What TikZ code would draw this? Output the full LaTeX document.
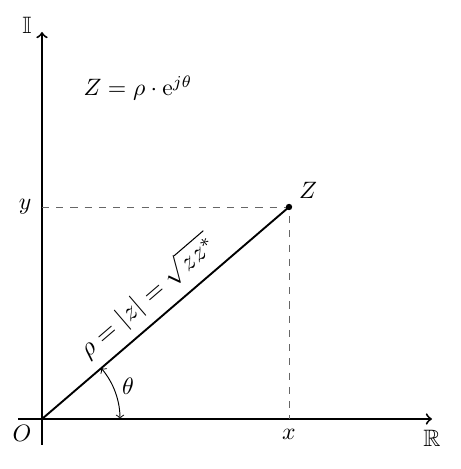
\documentclass[tikz,border=0pt]{standalone}
\usepackage{amsmath,amssymb}
\begin{document}
\begin{tikzpicture}[x=0.4217pt,y=0.4217pt,
  axis/.style={thick,->},
  guide/.style={dashed,gray!80!black},
  vec/.style={thick},
  lbl/.style={inner sep=1pt}]
\useasboundingbox (-42,-50) rectangle (418,419);
\coordinate (O) at (0,0);
\coordinate (Xs) at (-24,0);
\coordinate (Xe) at (390,0);
\coordinate (Ys) at (0,-26);
\coordinate (Ye) at (0,387);
\coordinate (Z) at (247,212);
\coordinate (Zx) at (247,0);
\coordinate (Zy) at (0,212);
\draw[axis] (Xs) -- (Xe);
\draw[axis] (Ys) -- (Ye);
\draw[guide] (Zy) -- (Z) -- (Zx);
\draw[vec] (O) -- node[pos=0.49,sloped,above=2.5pt,lbl,scale=1.1] {$\rho=|z|=\sqrt{zz^*}$} (Z);
\fill (Z) circle (3.2);
\draw[<->] (78,0) arc[start angle=0,end angle=40.64,radius=78];
\node[lbl] (th) at (86,33) {$\theta$};
\node[lbl] (Zl) at (266,229) {$Z$};
\node[lbl] (yl) at (-17,212) {$y$};
\node[lbl] (xl) at (247,-15) {$x$};
\node[lbl] (Ol) at (-20,-14) {$O$};
\node[lbl] (Rl) at (390,-19) {$\mathbb{R}$};
\node[lbl] (Il) at (-15,394) {$\mathbb{I}$};
\node[lbl] (eq) at (96,331) {$Z=\rho\cdot\mathrm{e}^{j\theta}$};
\end{tikzpicture}
\end{document}
